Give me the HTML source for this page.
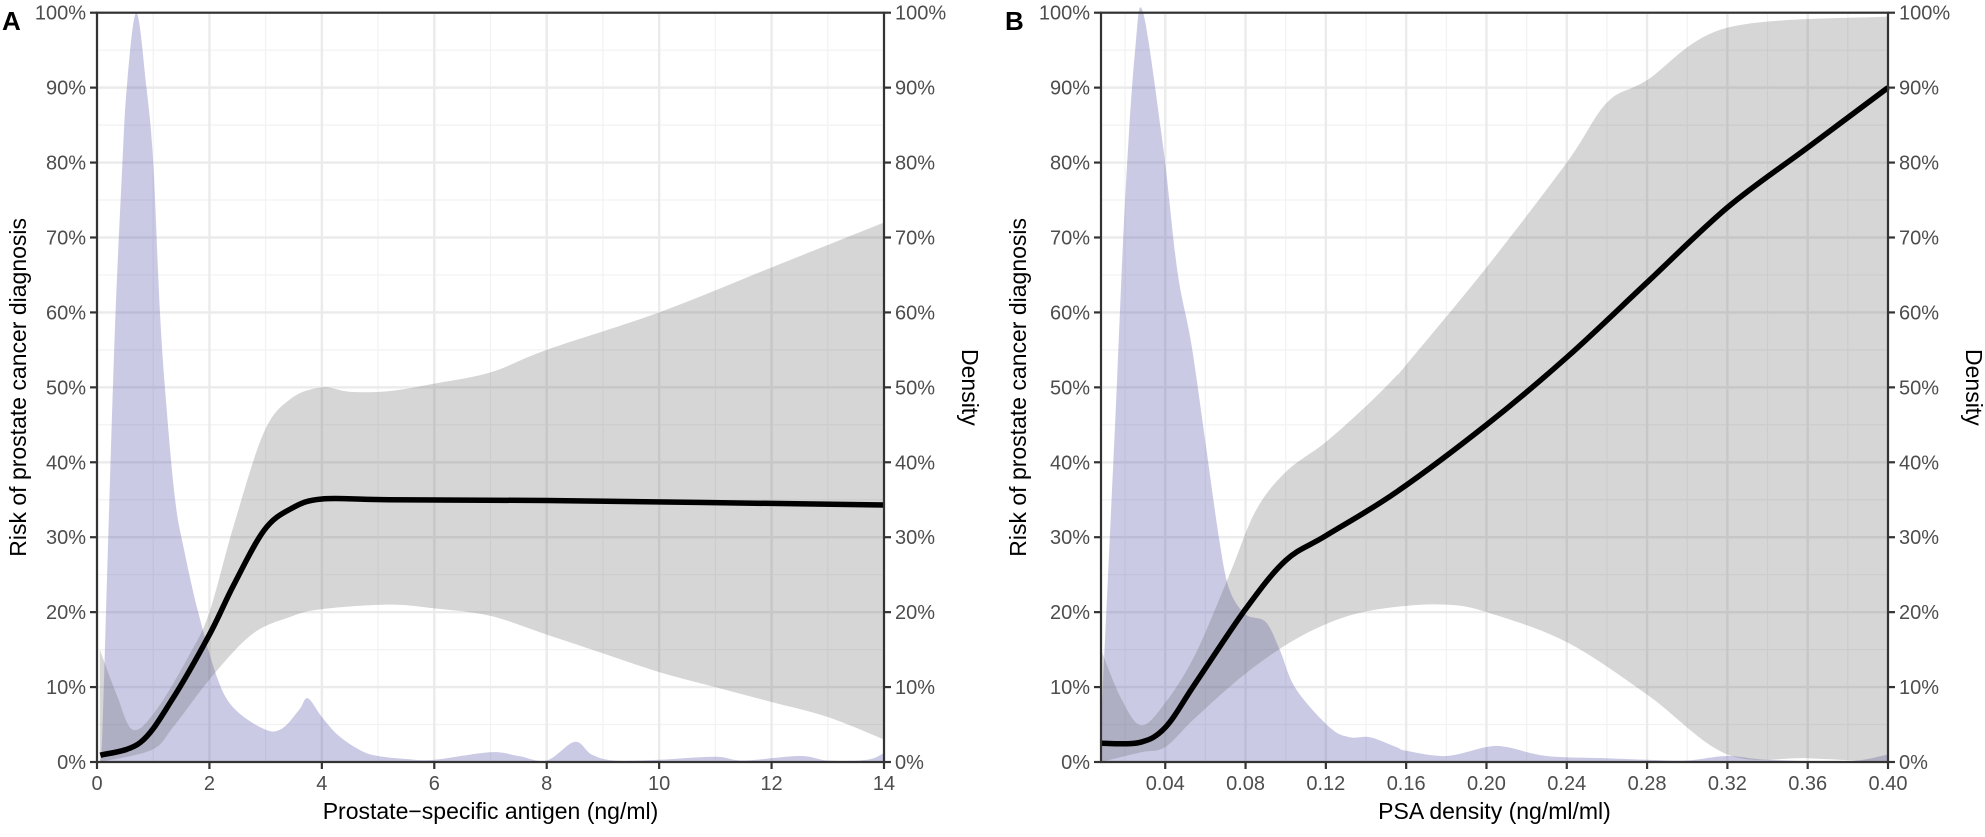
<!DOCTYPE html>
<html><head><meta charset="utf-8"><style>
body{margin:0;background:#fff;}
svg{display:block;font-family:"Liberation Sans",sans-serif;}
</style></head><body>
<svg id="chart" width="1985" height="837" viewBox="0 0 1985 837"></svg>
<script>
// Panel A data
const aTicks=[0,2,4,6,8,10,12,14];
const yTicks=[0,10,20,30,40,50,60,70,80,90,100];
const aDensX=[0.06,0.1,0.2,0.32,0.44,0.53,0.7,0.88,1.0,1.12,1.24,1.39,1.53,1.8,2.15,2.46,3.0,3.3,3.6,3.75,4.0,4.3,4.7,5.0,5.5,6,7,7.5,8,8.5,8.8,9.2,10,11,11.5,12.5,13,13.7,14];
const aDensY=[0,5,30,58,78,90,100,90,80,60,47,35,29,20,11,7,4.3,4.5,7,8.5,6,3.5,1.5,0.8,0.4,0.3,1.3,0.8,0.2,2.7,1,0.2,0.3,0.7,0.2,0.8,0.2,0.3,1.2];
const aCiX=[0.05,0.35,0.64,1.06,1.65,2.0,2.43,2.97,3.45,4.0,4.5,5.2,6,7,8,10,12,14];
const aCiUp=[15,9,4.3,7,14.4,20,31.5,44,48.5,50,49.4,49.5,50.5,52,55,60,66,72];
const aLoX=[0.05,0.97,1.35,2.0,2.75,3.45,4.0,5.2,6,7,8,9,10,11,12,13,14];
const aCiLo=[0,1.6,4.6,11,17,19.4,20.4,21,20.5,19.5,17,14.5,12,10,8,6,3];
const aLineX=[0.06,0.77,1.35,2.0,2.43,2.97,3.45,4.0,5.2,8,14];
const aLineY=[0.9,2.6,8.5,17,23.6,30.9,33.8,35.1,35,34.9,34.3];
// Panel B data
const bTicks=[0.04,0.08,0.12,0.16,0.20,0.24,0.28,0.32,0.36,0.40];
const bDensX=[0.008,0.015,0.02,0.025,0.029,0.039,0.046,0.053,0.06,0.067,0.072,0.08,0.09,0.097,0.105,0.122,0.132,0.142,0.155,0.16,0.18,0.20,0.21,0.23,0.26,0.28,0.30,0.32,0.34,0.38,0.40];
const bDensY=[5,45,75,95,100,82,65.6,55.8,42.7,29.5,23,19.7,18.7,15,9.8,4.6,3.3,3.3,2,1.5,0.8,2,2,0.8,0.5,0.3,0.2,0.8,0.3,0.1,1];
const bUpX=[0.008,0.018,0.028,0.04,0.055,0.072,0.085,0.1,0.12,0.142,0.155,0.16,0.20,0.24,0.26,0.28,0.32,0.40];
const bCiUp=[15,8.5,4.9,7.9,14.4,25,33.5,38.7,42.7,48,51.5,53,66,80,88,91,98,99.5];
const bLoX=[0.008,0.028,0.04,0.055,0.08,0.105,0.13,0.155,0.18,0.20,0.24,0.28,0.32,0.36,0.40];
const bCiLo=[0,1.3,2,5.9,11.8,16.4,19.4,20.7,21,20,16,9,1,0.5,0];
const bLineX=[0.008,0.027,0.04,0.055,0.08,0.1,0.12,0.155,0.20,0.24,0.28,0.32,0.36,0.40];
const bLineY=[2.5,2.6,4.6,10.5,20.4,26.9,30.2,36,45,54,64,74,82,90];

const NS="http://www.w3.org/2000/svg";
const svg=document.getElementById('chart');
function mk(tag,attrs,parent){const e=document.createElementNS(NS,tag);for(const k in attrs)e.setAttribute(k,attrs[k]);(parent||svg).appendChild(e);return e;}
function smooth(pts){let d='M'+pts[0][0]+','+pts[0][1];for(let i=0;i<pts.length-1;i++){const p0=pts[i-1]||pts[i],p1=pts[i],p2=pts[i+1],p3=pts[i+2]||p2;const c1x=p1[0]+(p2[0]-p0[0])/6,c1y=p1[1]+(p2[1]-p0[1])/6,c2x=p2[0]-(p3[0]-p1[0])/6,c2y=p2[1]-(p3[1]-p1[1])/6;d+=' C'+c1x+','+c1y+' '+c2x+','+c2y+' '+p2[0]+','+p2[1];}return d;}
function smoothCont(pts){return smooth(pts).replace(/^M/,'L');}

function panel(o){
  const g=mk('g',{});
  
  
  const L=o.L,R=o.R,T=12.7,B=762;
  const sx=v=>L+(v-o.xmin)/(o.xmax-o.xmin)*(R-L);
  const sy=v=>B-v/100*(B-T);
  for(let i=0;i<yTicks.length-1;i++){const v=(yTicks[i]+yTicks[i+1])/2;const l=mk('line',{x1:L,x2:R,y1:sy(v),y2:sy(v),stroke:'#f2f2f2','stroke-width':1.2},g);}
  o.minor.forEach(v=>{if(v<=o.xmin||v>=o.xmax)return;const l=mk('line',{x1:sx(v),x2:sx(v),y1:T,y2:B,stroke:'#f2f2f2','stroke-width':1.2},g);});
  yTicks.forEach(v=>{const l=mk('line',{x1:L,x2:R,y1:sy(v),y2:sy(v),stroke:'#ebebeb','stroke-width':2.4},g);});
  o.ticks.forEach(v=>{const l=mk('line',{x1:sx(v),x2:sx(v),y1:T,y2:B,stroke:'#ebebeb','stroke-width':2.4},g);});
  const dp=o.dx.map((x,i)=>[sx(x),sy(o.dy[i])]);
  const dens=mk('path',{d:'M'+sx(o.dx[0])+','+B+' L'+dp[0][0]+','+dp[0][1]+' '+smooth(dp).replace(/^M[^ ]+/,'')+' L'+sx(o.dx[o.dx.length-1])+','+B+' Z',fill:'rgb(78,78,168)','fill-opacity':0.3},g);
  
  
  const up=o.ux.map((x,i)=>[sx(x),sy(o.uy[i])]);
  const lo=o.lx.map((x,i)=>[sx(x),sy(o.ly[i])]).reverse();
  const ci=mk('path',{d:smooth(up)+' '+smoothCont(lo)+' Z',fill:'#666','fill-opacity':0.27},g);
  
  
  const lp=o.kx.map((x,i)=>[sx(x),sy(o.ky[i])]);
  const ln=mk('path',{d:smooth(lp),fill:'none',stroke:'#000','stroke-width':5.5,'stroke-linecap':'butt'},g);
  
  
  const bd=mk('rect',{x:L,y:T,width:R-L,height:B-T,fill:'none',stroke:'#333','stroke-width':2.2},g);
  
  
  yTicks.forEach(v=>{
    mk('line',{x1:L-7,x2:L,y1:sy(v),y2:sy(v),stroke:'#333','stroke-width':2.2},g);
    mk('line',{x1:R,x2:R+7,y1:sy(v),y2:sy(v),stroke:'#333','stroke-width':2.2},g);
    const t=mk('text',{x:L-11,y:sy(v)+7,'text-anchor':'end','font-size':20,fill:'#4d4d4d'},g);t.textContent=v+'%';
    
    
    const t2=mk('text',{x:R+11,y:sy(v)+7,'font-size':20,fill:'#4d4d4d'},g);t2.textContent=v+'%';
    
    
  });
  o.ticks.forEach(v=>{
    mk('line',{x1:sx(v),x2:sx(v),y1:B,y2:B+7,stroke:'#333','stroke-width':2.2},g);
    const t=mk('text',{x:sx(v),y:790,'text-anchor':'middle','font-size':20,fill:'#4d4d4d'},g);t.textContent=o.fmt(v);
    
    
  });
  const xt=mk('text',{x:(L+R)/2,y:819,'text-anchor':'middle','font-size':23,fill:'#000'},g);xt.textContent=o.xtitle;
  
  
  const yt=mk('text',{x:0,y:0,'text-anchor':'middle','font-size':23,fill:'#000',transform:'translate('+(o.yl)+','+((T+B)/2)+') rotate(-90)'},g);yt.textContent='Risk of prostate cancer diagnosis';
  
  
  const dt=mk('text',{x:0,y:0,'text-anchor':'middle','font-size':23,fill:'#000',transform:'translate('+(o.yr)+','+((T+B)/2)+') rotate(90)'},g);dt.textContent='Density';
  
  
  const lab=mk('text',{x:o.labx,y:30,'font-size':26,'font-weight':'bold',fill:'#000'},g);lab.textContent=o.label;
  
  
}
panel({name:'panel-a',L:97,R:884,xmin:0,xmax:14,ticks:aTicks,minor:[1,3,5,7,9,11,13],dx:aDensX,dy:aDensY,ux:aCiX,uy:aCiUp,lx:aLoX,ly:aCiLo,kx:aLineX,ky:aLineY,fmt:v=>String(v),xtitle:'Prostate\u2212specific antigen (ng/ml)',yl:26,yr:962,labx:2,label:'A'});
panel({name:'panel-b',L:1101,R:1888,xmin:0.008,xmax:0.40,ticks:bTicks,minor:[0.02,0.06,0.10,0.14,0.18,0.22,0.26,0.30,0.34,0.38],dx:bDensX,dy:bDensY,ux:bUpX,uy:bCiUp,lx:bLoX,ly:bCiLo,kx:bLineX,ky:bLineY,fmt:v=>v.toFixed(2),xtitle:'PSA density (ng/ml/ml)',yl:1026,yr:1966,labx:1005,label:'B'});
</script>
</body></html>
